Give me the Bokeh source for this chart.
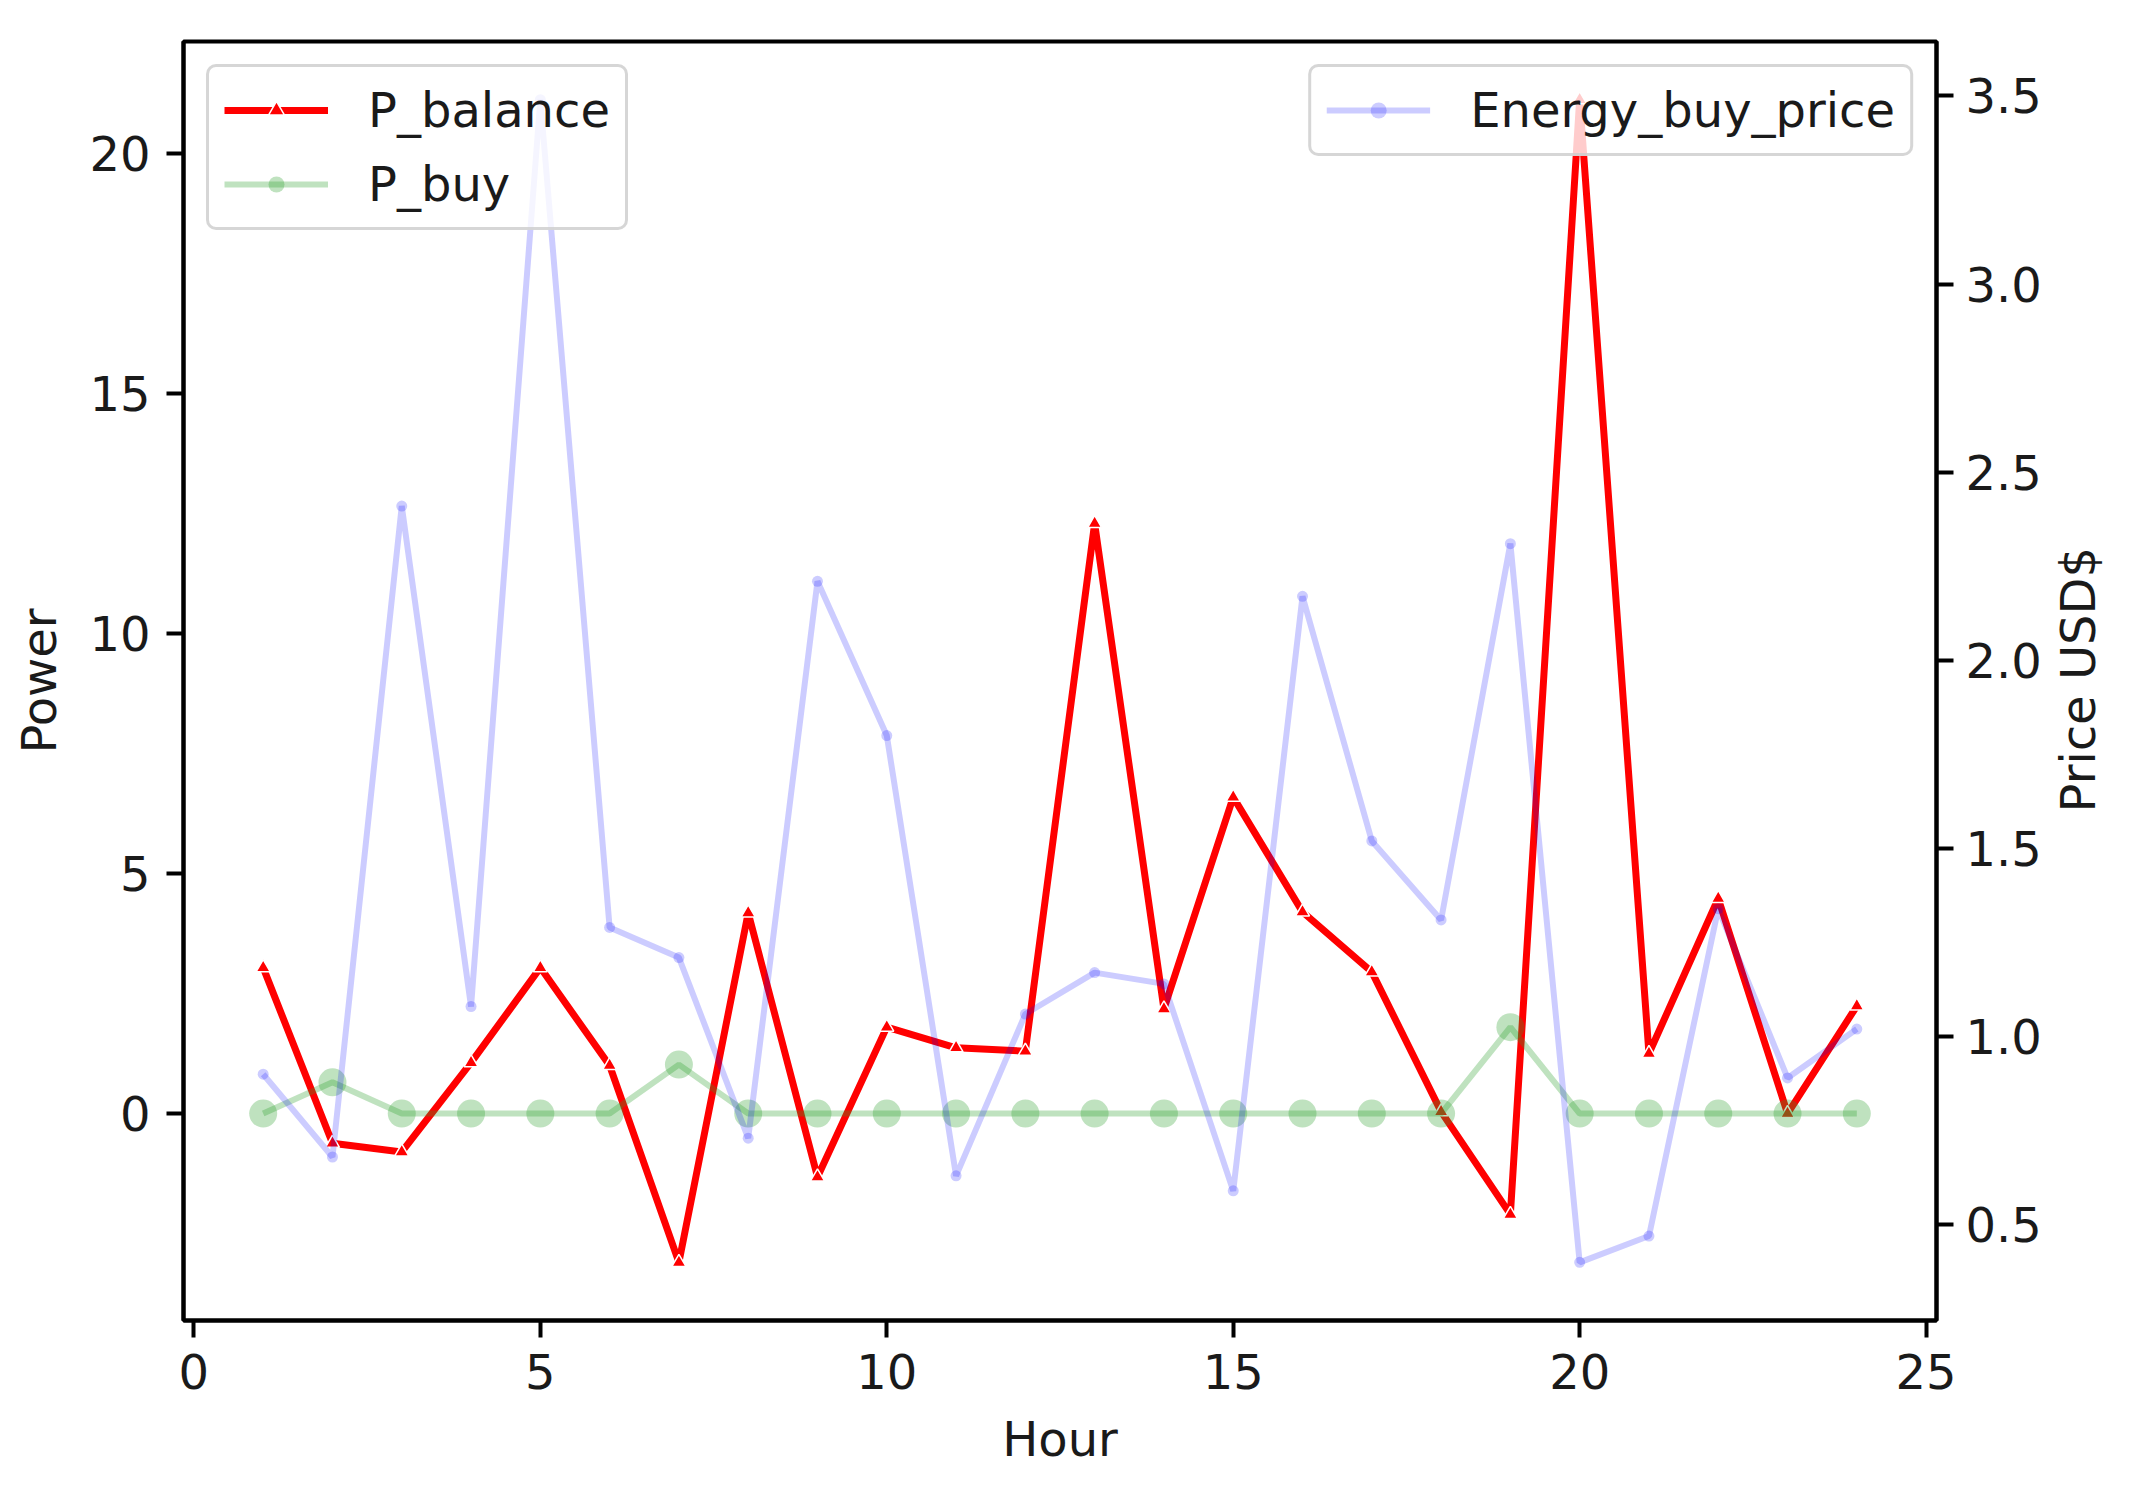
import math
from bokeh.plotting import figure
from bokeh.layouts import row
from bokeh.models import (Range1d, LinearAxis, FixedTicker, PrintfTickFormatter,
                          Legend, LegendItem)
from bokeh.core.properties import value
from bokeh.embed import file_html
from bokeh.resources import INLINE

# ---- data ----
hours = list(range(1, 25))
p_balance = [3.04, -0.62, -0.8, 1.06, 3.04, 1.0, -3.1, 4.18, -1.32, 1.8, 1.37, 1.3,
             12.29, 2.18, 6.59, 4.2, 2.95, 0.04, -2.1, 21.12, 1.25, 4.48, 0.0, 2.24]
p_buy = [0.0, 0.65, 0.0, 0.0, 0.0, 0.0, 1.02, 0.0, 0.0, 0.0, 0.0, 0.0,
         0.0, 0.0, 0.0, 0.0, 0.0, 0.0, 1.8, 0.0, 0.0, 0.0, 0.0, 0.0]
energy_buy_price = [0.90, 0.68, 2.41, 1.08, 3.49, 1.29, 1.21, 0.73, 2.21, 1.80, 0.63, 1.06,
                    1.17, 1.14, 0.59, 2.17, 1.52, 1.31, 2.31, 0.40, 0.47, 1.34, 0.89, 1.02]
x_ticks = [0, 5, 10, 15, 20, 25]
power_ticks = [0, 5, 10, 15, 20]
price_ticks = [0.5, 1.0, 1.5, 2.0, 2.5, 3.0, 3.5]
price_title = "Price USD$"


def padded(vals, frac=0.05):
    lo, hi = min(vals), max(vals)
    d = (hi - lo) * frac
    return lo - d, hi + d


FONT = "DejaVu Sans"
TEXT = "#1a1a1a"
FS = "48px"
FRAME_W, FRAME_H = 1753, 1279
B_LEFT, B_TOP, B_RIGHT, B_BOTTOM = 183, 41, 110, 174
TOTAL_H = B_TOP + FRAME_H + B_BOTTOM
SIDE_W = 80
TITLE_X = 31          # horizontal position of the right title inside its strip, px
TITLE_DROP = 65       # nudge of the right title below the frame centre, px

p = figure(frame_width=FRAME_W, frame_height=FRAME_H, output_backend="svg", toolbar_location=None,
           x_range=Range1d(*padded(hours)), y_range=Range1d(*padded(p_balance + p_buy)),
           min_border_left=B_LEFT, min_border_top=B_TOP, min_border_right=B_RIGHT,
           min_border_bottom=B_BOTTOM,
           background_fill_color="white", border_fill_color="white")
p.extra_y_ranges = {"price": Range1d(*padded(energy_buy_price))}
p.xgrid.visible = False
p.ygrid.visible = False
p.outline_line_color = "black"
p.outline_line_width = 4
p.outline_line_alpha = 1.0


def style_axis(ax, ticks, label):
    ax.ticker = FixedTicker(ticks=ticks)
    ax.axis_label = label
    ax.axis_label_text_font = FONT
    ax.axis_label_text_font_size = FS
    ax.axis_label_text_font_style = "normal"
    ax.axis_label_text_color = TEXT
    ax.major_label_text_font = FONT
    ax.major_label_text_font_size = FS
    ax.major_label_text_color = TEXT
    ax.major_tick_out = 17
    ax.major_tick_in = 0
    ax.major_tick_line_width = 4
    ax.major_tick_line_color = "black"
    ax.minor_tick_out = 0
    ax.minor_tick_in = 0
    ax.axis_line_width = 4
    ax.axis_line_color = "black"
    ax.major_label_standoff = 16
    ax.axis_label_standoff = 19


style_axis(p.xaxis[0], x_ticks, "Hour")
style_axis(p.yaxis[0], power_ticks, "Power")

ra = LinearAxis(y_range_name="price")
style_axis(ra, price_ticks, None)
ra.formatter = PrintfTickFormatter(format="%.1f")
ra.major_label_standoff = 12
p.add_layout(ra, "right")

# ---- series ----
r_bal = p.line(hours, p_balance, line_color="red", line_width=7)
m_bal = p.scatter(hours, p_balance, marker="triangle", size=14, fill_color="red",
                  line_color="white", line_width=1.5)
r_buy = p.line(hours, p_buy, line_color="#2ca02c", line_alpha=0.3, line_width=6)
m_buy = p.scatter(hours, p_buy, marker="circle", size=28, fill_color="#2ca02c",
                  fill_alpha=0.3, line_color=None)
r_pr = p.line(hours, energy_buy_price, line_color="blue", line_alpha=0.2, line_width=6,
              y_range_name="price")
m_pr = p.scatter(hours, energy_buy_price, marker="circle", size=11, fill_color="blue",
                 fill_alpha=0.2, line_color=None, y_range_name="price")


def make_legend(items, loc):
    lg = Legend(items=items, location=loc)
    lg.label_text_font = FONT
    lg.label_text_font_size = FS
    lg.label_text_color = TEXT
    lg.glyph_width = 104
    lg.glyph_height = 40
    lg.label_height = 56
    lg.label_standoff = 40
    lg.padding = 15
    lg.spacing = 18
    lg.margin = 23
    lg.border_line_color = "#cccccc"
    lg.border_line_width = 3
    lg.border_line_alpha = 0.8
    lg.background_fill_color = "white"
    lg.background_fill_alpha = 0.8
    if "border_radius" in Legend.properties():
        lg.border_radius = 10
    p.add_layout(lg)
    return lg


make_legend([LegendItem(label="P_balance", renderers=[r_bal, m_bal]),
             LegendItem(label="P_buy", renderers=[r_buy, m_buy])], "top_left")
make_legend([LegendItem(label="Energy_buy_price", renderers=[r_pr, m_pr])], "top_right")

# ---- right-axis title strip (text reads bottom-to-top, as in the reference) ----
side = figure(width=SIDE_W, height=TOTAL_H, output_backend="svg", toolbar_location=None,
              x_range=Range1d(0, SIDE_W), y_range=Range1d(-B_BOTTOM, FRAME_H + B_TOP),
              x_axis_location=None, y_axis_location=None,
              min_border=0, outline_line_color=None,
              background_fill_color="white", border_fill_color="white")
side.xgrid.visible = False
side.ygrid.visible = False
side.text(x=[TITLE_X], y=[FRAME_H / 2 - TITLE_DROP], text=[price_title], angle=math.pi / 2,
          text_align="center", text_baseline="middle",
          text_font=value(FONT), text_font_size=value(FS), text_color=TEXT)

layout = row(p, side, spacing=0)
open("out.html", "w").write(file_html(layout, INLINE))
